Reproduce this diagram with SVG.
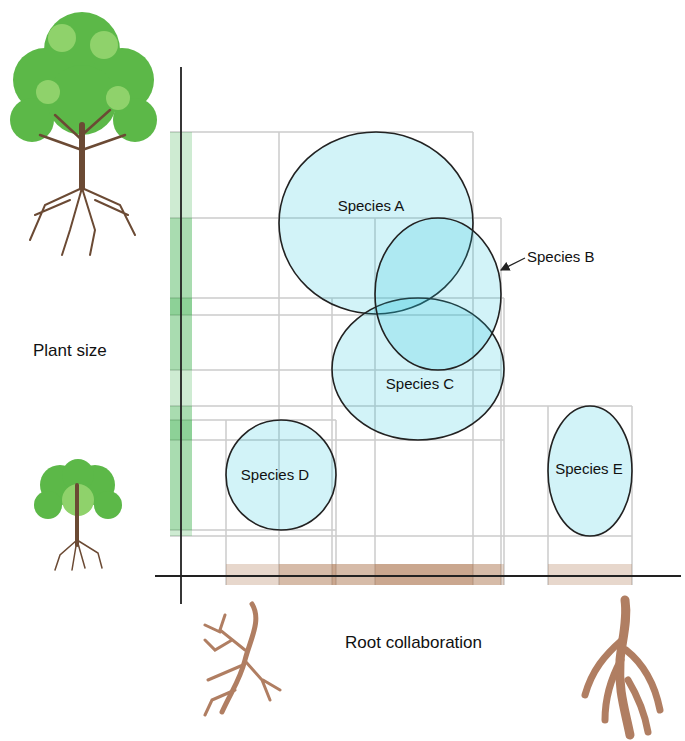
<svg xmlns="http://www.w3.org/2000/svg" width="685" height="741" viewBox="0 0 685 741">
<style>
text{font-family:"Liberation Sans",Arial,sans-serif;font-size:15px;fill:#111}
.big{font-size:17px}
.sp{fill:#1ec4de;fill-opacity:0.2;stroke:#222;stroke-width:1.6}
.g{stroke:#ccc;stroke-width:1.5;fill:none}
.gb{fill:#3cae4a;fill-opacity:0.25}
.bb{fill:#b07a55;fill-opacity:0.3}
.leaf{fill:#5cb848}
.leaf2{fill:#8fd26b}
.trunk{stroke:#6b4a34;fill:none;stroke-linecap:round}
.root{stroke:#b07e62;fill:none;stroke-linecap:round}
</style>
<defs><marker id="ar" markerWidth="8" markerHeight="8" refX="7" refY="4" orient="auto"><path d="M0,0L8,4L0,8z" fill="#222"/></marker></defs>
<rect width="685" height="741" fill="#fff"/>
<g id="guides">
<path class="g" d="M170,132H473M170,315H473M170,218H501M170,370H501M170,298H504M170,440H504M170,420H336M170,530H336M170,406H632M170,536H632"/>
<path class="g" d="M279,132V585M473,132V585M375,218V585M501,218V585M332,298V585M504,298V585M226,420V585M336,420V585M548,406V585M632,406V585"/>
</g>
<g id="green-bars">
<rect class="gb" x="170" y="132" width="22" height="183"/>
<rect class="gb" x="170" y="218" width="22" height="152"/>
<rect class="gb" x="170" y="298" width="22" height="142"/>
<rect class="gb" x="170" y="420" width="22" height="110"/>
<rect class="gb" x="170" y="406" width="22" height="130"/>
</g>
<g id="brown-bars">
<rect class="bb" x="226" y="564" width="110" height="21"/>
<rect class="bb" x="279" y="564" width="194" height="21"/>
<rect class="bb" x="375" y="564" width="126" height="21"/>
<rect class="bb" x="332" y="564" width="172" height="21"/>
<rect class="bb" x="548" y="564" width="84" height="21"/>
</g>
<g id="connectors">
<path d="M181,67V604M155,576H681" stroke="#222" stroke-width="1.8" fill="none"/>
<path d="M525,258L501,270" stroke="#222" stroke-width="1.2" marker-end="url(#ar)"/>
</g>
<g id="speciesA"><ellipse class="sp" cx="376" cy="223" rx="97" ry="91"/><text x="371" y="211" text-anchor="middle">Species A</text></g>
<g id="speciesC"><ellipse class="sp" cx="418" cy="369" rx="86" ry="71"/><text x="420" y="389" text-anchor="middle">Species C</text></g>
<g id="speciesB"><ellipse class="sp" cx="438" cy="294" rx="63" ry="76"/><text x="527" y="262">Species B</text></g>
<g id="speciesD"><circle class="sp" cx="281" cy="475" r="55"/><text x="275" y="480" text-anchor="middle">Species D</text></g>
<g id="speciesE"><ellipse class="sp" cx="590" cy="471" rx="42" ry="65"/><text x="589" y="474" text-anchor="middle">Species E</text></g>
<g id="labels">
<text class="big" x="33" y="356">Plant size</text>
<text class="big" x="345" y="648">Root collaboration</text>
</g>
<g id="big-tree">
<path class="trunk" stroke-width="2" d="M82,188L45,205L30,240M82,188L70,230L62,255M82,188L95,230L90,255M82,188L120,205L135,235M70,200L35,215M95,200L128,215"/>
<circle class="leaf" cx="82" cy="50" r="38"/><circle class="leaf" cx="45" cy="80" r="32"/><circle class="leaf" cx="122" cy="80" r="32"/>
<circle class="leaf" cx="32" cy="120" r="22"/><circle class="leaf" cx="135" cy="120" r="22"/><circle class="leaf" cx="82" cy="100" r="35"/>
<circle class="leaf2" cx="62" cy="38" r="14"/><circle class="leaf2" cx="104" cy="45" r="14"/><circle class="leaf2" cx="48" cy="92" r="12"/><circle class="leaf2" cx="118" cy="98" r="12"/>
<path class="trunk" stroke-width="6" d="M82,188V125"/>
<path class="trunk" stroke-width="2.5" d="M82,140L55,115M82,135L110,110M82,150L40,135M82,150L125,135"/>
</g>
<g id="small-tree">
<circle class="leaf" cx="60" cy="485" r="20"/><circle class="leaf" cx="95" cy="485" r="20"/><circle class="leaf" cx="78" cy="475" r="16"/><circle class="leaf" cx="48" cy="505" r="14"/><circle class="leaf" cx="108" cy="505" r="14"/><circle class="leaf2" cx="78" cy="500" r="16"/>
<path class="trunk" stroke-width="4" d="M77,545V485"/>
<path class="trunk" stroke-width="1.5" d="M77,540L60,555L55,570M77,540L72,570M77,540L85,568M77,540L98,553L102,568"/>
</g>
<g id="thin-root">
<path class="root" stroke-width="5" d="M252,604C262,620 250,640 245,660C240,680 232,690 222,712"/>
<path class="root" stroke-width="3" d="M245,650L220,630L225,615M243,665L208,680M235,690L212,700L205,715M246,662L262,680L270,700M263,680L280,690M232,640L215,650L205,640M220,632L205,625"/>
</g>
<g id="thick-root">
<path class="root" stroke-width="9" d="M625,600C628,620 622,640 620,660C618,690 625,710 630,735"/>
<path class="root" stroke-width="7" d="M622,640C605,655 592,670 585,695M621,660C610,680 605,700 605,720M626,650C645,665 655,685 660,710M628,680C640,700 645,715 648,732"/>
</g>
</svg>
